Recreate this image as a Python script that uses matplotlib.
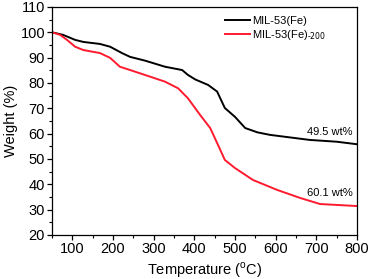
import matplotlib
matplotlib.use("Agg")
import matplotlib.pyplot as plt
from matplotlib.ticker import MultipleLocator

plt.rcParams['font.family'] = ['Liberation Sans', 'DejaVu Sans']

temp_fe = [50, 77, 107, 127, 168, 193, 222, 242, 279, 328, 370, 384, 402, 434, 456, 470, 475, 500, 525, 555, 586, 684, 750, 800]
weight_fe = [100, 99, 97, 96.2, 95.4, 94.3, 91.8, 90.3, 88.8, 86.4, 85.1, 83.2, 81.4, 79.2, 76.6, 71.8, 70.1, 66.6, 62.2, 60.5, 59.5, 57.5, 56.8, 55.8]

temp_200 = [50, 70, 87, 107, 127, 168, 193, 217, 242, 291, 328, 360, 384, 414, 439, 456, 475, 500, 544, 603, 660, 709, 800]
weight_200 = [100, 99, 97, 94.3, 93, 91.8, 89.9, 86.4, 85.1, 82.5, 80.5, 77.9, 74, 67.4, 62.2, 56.3, 49.6, 46.4, 41.7, 37.8, 34.6, 32.2, 31.4]

labels = ['MIL-53(Fe)', 'MIL-53(Fe)$_{\\text{-200}}$']
colors = ['black', '#ff1a2e']

fig = plt.figure(figsize=(3.70, 2.79), dpi=100)
ax = fig.add_axes([0.1405, 0.158, 0.8245, 0.817])

ax.plot(temp_fe, weight_fe, color=colors[0], lw=1.4, label=labels[0])
ax.plot(temp_200, weight_200, color=colors[1], lw=1.4, label=labels[1])

ax.set_xlim(50, 800)
ax.set_ylim(20, 110)
ax.xaxis.set_major_locator(MultipleLocator(100))
ax.xaxis.set_minor_locator(MultipleLocator(50))
ax.yaxis.set_major_locator(MultipleLocator(10))
ax.yaxis.set_minor_locator(MultipleLocator(5))
ax.tick_params(which='major', direction='out', length=3.5, width=0.9, labelsize=10.5, pad=1.5)
ax.tick_params(which='minor', direction='out', length=2, width=0.8)
ax.tick_params(top=False, right=False)
for s in ax.spines.values():
    s.set_linewidth(0.9)

ax.set_xlabel('Temperature ($^{\\mathregular{o}}$C)', fontsize=10.5, labelpad=3)
ax.set_ylabel('Weight (%)', fontsize=10.5, labelpad=2)

leg = ax.legend(loc='upper right', bbox_to_anchor=(0.92, 0.99), frameon=False, fontsize=8,
                handlelength=2.2, handletextpad=0.2, labelspacing=0.2, borderaxespad=0.2)

ax.text(789, 58.5, '49.5 wt%', fontsize=8, ha='right', va='bottom')
ax.text(789, 34.5, '60.1 wt%', fontsize=8, ha='right', va='bottom')

fig.savefig('out.png', dpi=100)
